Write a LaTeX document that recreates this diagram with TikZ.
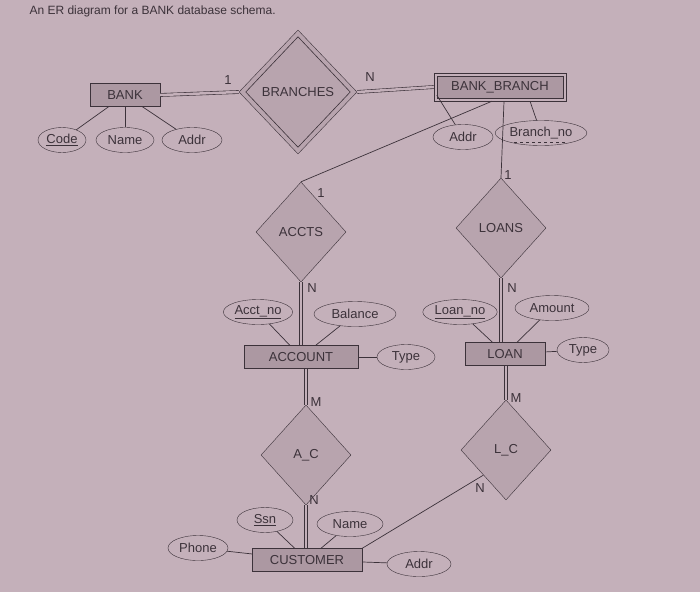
\documentclass[tikz,border=0pt]{standalone}
\usepackage{fontspec}
\setmainfont{Liberation Sans}
\usetikzlibrary{shapes.geometric}
\definecolor{bg}{RGB}{196,176,186}
\definecolor{ink}{RGB}{60,50,58}
\definecolor{boxf}{RGB}{172,152,162}
\definecolor{relf}{RGB}{184,164,174}
\begin{document}
\begin{tikzpicture}[x=1pt,y=-1pt,
  every node/.style={text=ink,font=\fontsize{13}{15}\selectfont},
  ent/.style={draw=ink,fill=boxf,minimum height=23,inner sep=2pt},
  rel/.style={draw=ink,fill=relf,diamond,aspect=0.9,inner sep=0pt},
  att/.style={draw=ink,ellipse,minimum height=25,inner sep=1pt},
  ln/.style={draw=ink,line width=0.7pt},
  dbl/.style={draw=ink,double=bg,double distance=2.5pt,line width=0.6pt}]
\fill[bg] (0,0) rectangle (700,592);
\node[anchor=west,font=\fontsize{12}{14}\selectfont] (title) at (26,11) {An ER diagram for a BANK database schema.};
% entities
\node[ent,minimum width=70] (bank) at (125,95) {BANK};
\node[ent,minimum width=126,minimum height=22] (bb) at (500,87) {BANK\_BRANCH};
\draw[ink,line width=0.6pt] ([shift={(-3,-3)}]bb.north west) rectangle ([shift={(3,3)}]bb.south east);
\node[ent,minimum width=114] (acc) at (301,357) {ACCOUNT};
\node[ent,minimum width=80] (loan) at (505,354) {LOAN};
\node[ent,minimum width=110] (cust) at (307,560) {CUSTOMER};
% relationships
\node[rel,minimum width=118,minimum height=124] (br) at (298,92) {BRANCHES};
\draw[ink,line width=0.6pt] ([yshift=-7]br.north) -- ([xshift=7]br.west) -- ([yshift=7]br.south) -- ([xshift=-7]br.east) -- cycle;
\node[rel,minimum width=90,minimum height=100] (accts) at (301,232) {ACCTS};
\node[rel,minimum width=90,minimum height=100] (loans) at (501,228) {LOANS};
\node[rel,minimum width=90,minimum height=100] (ac) at (306,455) {A\_C};
\node[rel,minimum width=90,minimum height=100] (lc) at (506,450) {L\_C};
% attributes
\node[att,minimum width=48] (code) at (62,140) {\underline{Code}};
\node[att,minimum width=58] (bname) at (125,140) {Name};
\node[att,minimum width=60] (baddr) at (192,140) {Addr};
\node[att,minimum width=60] (bbaddr) at (463,137) {Addr};
\node[att,minimum width=72] (bno) at (541,133) {Branch\_no};
\draw[ink,dashed] (514,142) -- (566,142);
\node[att,minimum width=68] (acctno) at (258,312) {\underline{Acct\_no}};
\node[att,minimum width=82] (bal) at (355,314) {Balance};
\node[att,minimum width=58] (atype) at (406,357) {Type};
\node[att,minimum width=64] (loanno) at (460,312) {\underline{Loan\_no}};
\node[att,minimum width=74] (amt) at (552,308) {Amount};
\node[att,minimum width=52] (ltype) at (583,350) {Type};
\node[att,minimum width=56] (ssn) at (265,520) {\underline{Ssn}};
\node[att,minimum width=66] (cname) at (350,524) {Name};
\node[att,minimum width=60] (phone) at (198,548) {Phone};
\node[att,minimum width=64] (caddr) at (419,564) {Addr};
% connectors
\draw[dbl] (bank.east) -- (br.west);
\draw[dbl] (br.east) -- ([xshift=-3]bb.west);
\draw[ln] ([shift={(-8,3)}]bb.south) -- (accts.north);
\draw[ln] ([shift={(4,3)}]bb.south) -- (loans.north);
\draw[dbl] (accts.south) -- (acc.north);
\draw[dbl] (loans.south) -- (loans.south |- loan.north);
\draw[dbl] (acc.south -| ac.north) -- (ac.north);
\draw[dbl] (ac.south) -- (ac.south |- cust.north);
\draw[dbl] (lc.north |- loan.south) -- (lc.north);
\draw[ln] (lc.south west) -- (cust.north east);
\foreach \a/\e in {code/bank,bname/bank,baddr/bank,acctno/acc,bal/acc,atype/acc,loanno/loan,amt/loan,ltype/loan,ssn/cust,cname/cust,phone/cust,caddr/cust}
  \draw[ln] (\a) -- (\e);
\draw[ln] (bbaddr) -- ([yshift=3]bb.south west);
\draw[ln] (bno) -- ([shift={(30,3)}]bb.south);
% cardinalities
\node (c1) at (228,80) {1};
\node (c2) at (370,77) {N};
\node (c3) at (321,193) {1};
\node (c4) at (508,175) {1};
\node (c5) at (312,288) {N};
\node (c6) at (512,288) {N};
\node (c7) at (316,402) {M};
\node (c8) at (516,398) {M};
\node (c9) at (314,500) {N};
\node (c10) at (480,488) {N};
\end{tikzpicture}
\end{document}
